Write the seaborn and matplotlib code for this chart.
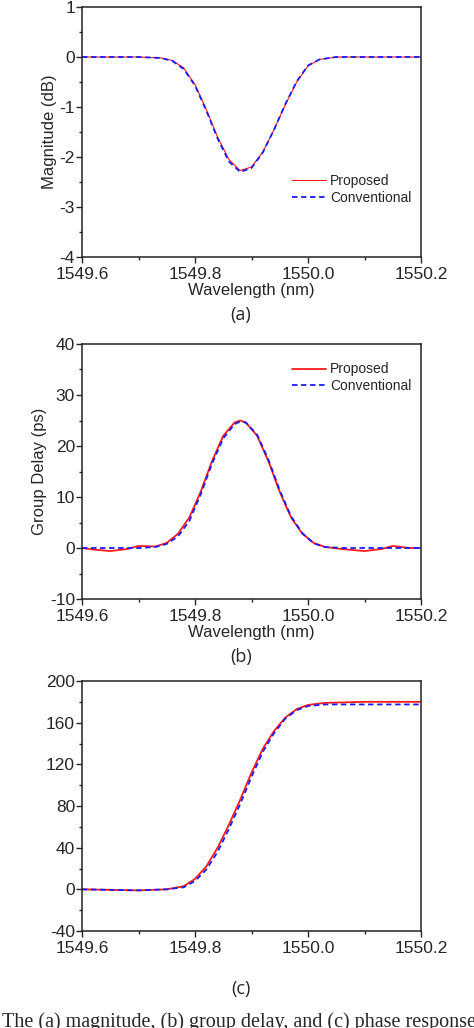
import numpy as np
import pandas as pd
import matplotlib
matplotlib.use("Agg")
import matplotlib.pyplot as plt
import seaborn as sns
from matplotlib.ticker import MultipleLocator

# ==========================================
# Data
# ==========================================

wl_mag = [1549.60, 1549.70, 1549.74, 1549.76, 1549.78, 1549.80, 1549.82, 1549.84, 1549.86, 1549.88,
          1549.90, 1549.92, 1549.94, 1549.96, 1549.98, 1550.00, 1550.02, 1550.05, 1550.10, 1550.20]
mag_prop = [0, 0, -0.02, -0.07, -0.22, -0.55, -1.05, -1.6, -2.05, -2.27,
            -2.2, -1.9, -1.45, -0.95, -0.5, -0.18, -0.05, 0, 0, 0]
mag_conv = [0, 0, -0.02, -0.08, -0.24, -0.57, -1.07, -1.63, -2.09, -2.3,
            -2.22, -1.91, -1.45, -0.94, -0.49, -0.17, -0.05, 0, 0, 0]

wl_gd = [1549.60, 1549.62, 1549.65, 1549.68, 1549.70, 1549.73, 1549.75, 1549.77, 1549.79, 1549.81,
         1549.83, 1549.85, 1549.87, 1549.88, 1549.89, 1549.91, 1549.93, 1549.95, 1549.97, 1549.99,
         1550.01, 1550.03, 1550.06, 1550.10, 1550.13, 1550.15, 1550.18, 1550.20]
gd_prop = [0, -0.3, -0.6, -0.2, 0.4, 0.3, 1.0, 2.8, 6, 11,
           17, 22, 24.6, 25, 24.6, 22, 17, 11, 6, 2.8,
           1, 0.2, -0.2, -0.6, -0.2, 0.4, 0, 0]
gd_conv = [0, 0, 0, 0, 0, 0.2, 0.8, 2.3, 5.3, 10.5,
           16.5, 21.5, 24.3, 24.8, 24.6, 22.2, 17.3, 11.3, 6.2, 2.9,
           0.9, 0.2, 0, 0, 0, 0, 0, 0]

wl_ph = [1549.60, 1549.70, 1549.75, 1549.78, 1549.80, 1549.82, 1549.84, 1549.86, 1549.88,
         1549.90, 1549.92, 1549.94, 1549.96, 1549.98, 1550.00, 1550.03, 1550.10, 1550.20]
ph_prop = [0, -1, 0, 3, 10, 22, 40, 62, 86, 112, 135, 152, 165, 173, 177, 179, 180, 180]
ph_conv = [0, -1, 0, 2, 8, 19, 36, 58, 82, 108, 132, 150, 164, 172, 176, 177.5, 177.5, 177.5]

# ==========================================
# Style
# ==========================================

sns.set_theme(style="ticks")
plt.rcParams["font.family"] = ["Liberation Sans", "DejaVu Sans"]
plt.rcParams["axes.unicode_minus"] = False

fig = plt.figure(figsize=(4.74, 10.28), dpi=100)
W, H = 474, 1028

def make_ax(top, bottom):
    return fig.add_axes([82 / W, 1 - bottom / H, (421 - 82) / W, (bottom - top) / H])

panels = [
    (7, 257, wl_mag, mag_prop, mag_conv, (-4, 1), 1, 0.5, "Magnitude (dB)", "Wavelength (nm)", "(a)", 315, True, 0.8),
    (344, 599, wl_gd, gd_prop, gd_conv, (-10, 40), 10, 5, "Group Delay (ps)", "Wavelength (nm)", "(b)", 657, True, 1.3),
    (681, 931, wl_ph, ph_prop, ph_conv, (-40, 200), 40, 20, None, None, "(c)", 989, False, 1.3),
]

for top, bottom, wl, prop, conv, ylim, major, minor, ylab, xlab, tag, tag_y, leg, lw in panels:
    ax = make_ax(top, bottom)
    df = pd.DataFrame({"Wavelength": wl + wl,
                       "Value": prop + conv,
                       "Series": ["Proposed"] * len(wl) + ["Conventional"] * len(wl)})
    sns.lineplot(data=df[df.Series == "Proposed"], x="Wavelength", y="Value",
                 color="#ff1a1a", linewidth=lw, label="Proposed", ax=ax)
    sns.lineplot(data=df[df.Series == "Conventional"], x="Wavelength", y="Value",
                 color="#1a1aff", linewidth=1.3, linestyle=(0, (3, 2)), label="Conventional", ax=ax)
    ax.set_xlim(1549.6, 1550.2)
    ax.set_ylim(*ylim)
    ax.xaxis.set_major_locator(MultipleLocator(0.2))
    ax.xaxis.set_minor_locator(MultipleLocator(0.1))
    ax.yaxis.set_major_locator(MultipleLocator(major))
    ax.yaxis.set_minor_locator(MultipleLocator(minor))
    ax.set_xticks(ax.get_xticks())
    ax.set_xticklabels([f"{v:.1f}" for v in ax.get_xticks()])
    ax.tick_params(which="major", length=4, width=1, labelsize=12.5, pad=1)
    ax.tick_params(axis="x", which="major", pad=3)
    ax.tick_params(which="minor", length=2, width=1)
    ax.set_xlim(1549.6, 1550.2)
    for s in ax.spines.values():
        s.set_linewidth(1.1)
        s.set_color("#222222")
    ax.set_xlabel(xlab if xlab else "", fontsize=12, labelpad=1)
    ax.set_ylabel(ylab if ylab else "", fontsize=12, labelpad=2)
    if leg:
        loc = (0.6, 0.18) if tag == "(a)" else (0.6, 0.78)
        ax.legend(loc="lower left", bbox_to_anchor=loc, frameon=False, fontsize=10,
                  handlelength=2.4, borderpad=0, labelspacing=0.2, handletextpad=0.3)
    else:
        ax.get_legend().remove()
    fig.text(241 / W, 1 - tag_y / H, tag, ha="center", va="center", fontsize=13,
             family=["Open Sans", "DejaVu Sans"])

fig.text(2 / W, 1 - 1022 / H, "The (a) magnitude, (b) group delay, and (c) phase responses",
         ha="left", va="center", fontsize=14.5, family=["Liberation Serif", "DejaVu Serif"])

fig.savefig("out.png", dpi=100)
